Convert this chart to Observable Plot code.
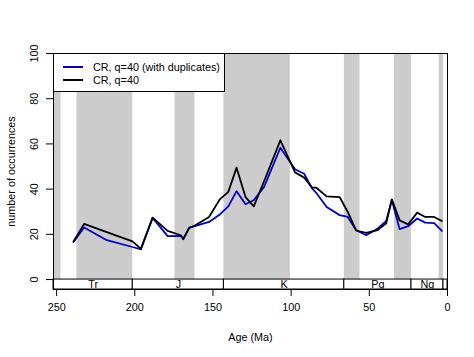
<!DOCTYPE html>
<html>
<head>
<meta charset="utf-8">
<script src="https://cdn.jsdelivr.net/npm/d3@7"></script>
<script src="https://cdn.jsdelivr.net/npm/@observablehq/plot@0.6"></script>
<style>
  body { margin: 0; background: #fff; }
  #wrap { position: relative; width: 474px; height: 357px; font-family: "Liberation Sans", Arial, sans-serif; }
  #legend { position: absolute; left: 53px; top: 53px; width: 170px; height: 37px; background: #fff; border: 1px solid #000; font-size: 10.8px; color: #000; }
  .row { position: absolute; left: 0; height: 13px; display: flex; align-items: center; }
  .sw { display: inline-block; width: 20px; height: 0; border-top: 2px solid; margin-left: 9px; margin-right: 10px; }
</style>
</head>
<body>
<div id="wrap"></div>
<script>
// Time bins (Ma) and diversity estimates
const ages = [239.2, 232.4, 217.9, 201.5, 196.1, 188.6, 179.0, 170.5, 169.0, 165.2, 161.6, 152.5, 145.6, 140.2, 134.9, 129.2, 123.9, 117.3, 106.9, 97.5, 91.7, 86.6, 84.1, 77.3, 69.0, 63.8, 58.4, 52.0, 44.6, 39.2, 35.6, 30.6, 25.2, 19.4, 14.3, 8.5, 3.6];
const crNoDup = [16.9, 24.6, 21.0, 16.9, 13.6, 27.4, 21.5, 19.6, 18.0, 22.8, 23.9, 27.7, 35.5, 38.8, 49.5, 36.5, 32.4, 43.5, 61.6, 47.4, 45.1, 40.7, 40.7, 36.8, 36.5, 29.9, 21.7, 20.6, 21.9, 24.9, 35.5, 26.2, 24.4, 29.6, 27.7, 27.7, 25.9];
const crDup = [16.6, 23.0, 17.4, 14.4, 13.4, 27.3, 19.2, 19.3, 17.8, 23.0, 23.6, 25.5, 28.8, 32.4, 39.1, 33.3, 35.1, 41.0, 58.3, 48.8, 46.8, 40.3, 38.5, 32.1, 28.5, 27.7, 21.8, 19.6, 22.6, 25.9, 35.1, 22.3, 23.6, 27.0, 25.2, 25.0, 21.5];

// Epoch shading (alternate epochs)
const bandStart = [251.9, 237.0, 174.3, 143.0, 66.0, 33.9, 5.333];
const bandEnd   = [247.2, 201.3, 161.5, 100.5, 56.0, 23.03, 2.58];

// Periods
const periodNames = ["Tr", "J", "K", "Pg", "Ng", ""];
const periodStart = [252, 201.3, 143, 66, 23.03, 2.58];
const periodEnd   = [201.3, 143, 66, 23.03, 2.58, 0];

const xTicks = [250, 200, 150, 100, 50, 0];
const yTicks = [0, 20, 40, 60, 80, 100];

const seriesNames = ["CR, q=40 (with duplicates)", "CR, q=40"];
const seriesColors = ["#0000CD", "#000000"];

const yMin = -4.4;
const bands = bandStart.map((s, i) => ({s, e: bandEnd[i]}));
const periods = periodNames.map((n, i) => ({n, s: periodStart[i], e: periodEnd[i]}));
const dupData = ages.map((a, i) => ({a, v: crDup[i]}));
const noDupData = ages.map((a, i) => ({a, v: crNoDup[i]}));

const font = '"Liberation Sans", Arial, sans-serif';
const chart = Plot.plot({
  width: 474,
  height: 357,
  marginLeft: 53,
  marginRight: 27,
  marginTop: 53,
  marginBottom: 68,
  style: { fontFamily: font, fontSize: "10.8px", background: "#fff", color: "#000" },
  x: { domain: [252, 0], ticks: xTicks },
  y: { domain: [yMin, 100] },
  marks: [
    Plot.rectY(bands, { x1: "s", x2: "e", y1: 0, y2: 100, fill: "#cccccc" }),
    Plot.rectY(periods, { x1: "s", x2: "e", y1: yMin, y2: 0, fill: "white", stroke: "black", strokeWidth: 1 }),
    Plot.text(periods, { x: d => (d.s + d.e) / 2, y: yMin / 2, text: "n", fill: "black", fontSize: 10.8, dy: 0.5 }),
    Plot.line(dupData, { x: "a", y: "v", stroke: seriesColors[0], strokeWidth: 1.8 }),
    Plot.line(noDupData, { x: "a", y: "v", stroke: seriesColors[1], strokeWidth: 1.8 }),
    Plot.frame({ stroke: "black" }),
    Plot.axisX({ ticks: xTicks, tickSize: 7, tickPadding: 7, tickFormat: d => String(d), label: null, stroke: "black", fill: "black" }),
    Plot.axisY({ ticks: yTicks, tickSize: 7, tickFormat: () => "", label: null }),
    Plot.text(yTicks, { y: d => d, text: d => String(d), frameAnchor: "left", dx: -19, rotate: -90, textAnchor: "middle", lineAnchor: "middle", fill: "black" }),
    Plot.text(["number of occurrences"], { frameAnchor: "left", dx: -42, rotate: -90, text: d => d, textAnchor: "middle", lineAnchor: "middle", fill: "black" }),
    Plot.text(["Age (Ma)"], { frameAnchor: "bottom", dy: 48, text: d => d, textAnchor: "middle", lineAnchor: "middle", fill: "black" })
  ]
});
const wrap = document.getElementById("wrap");
wrap.appendChild(chart);

const leg = document.createElement("div");
leg.id = "legend";
seriesNames.forEach((n, i) => {
  const row = document.createElement("div");
  row.className = "row";
  row.style.top = (6 + i * 13) + "px";
  const sw = document.createElement("span");
  sw.className = "sw";
  sw.style.borderTopColor = seriesColors[i];
  const t = document.createElement("span");
  t.textContent = n;
  row.appendChild(sw);
  row.appendChild(t);
  leg.appendChild(row);
});
wrap.appendChild(leg);
</script>
</body>
</html>
